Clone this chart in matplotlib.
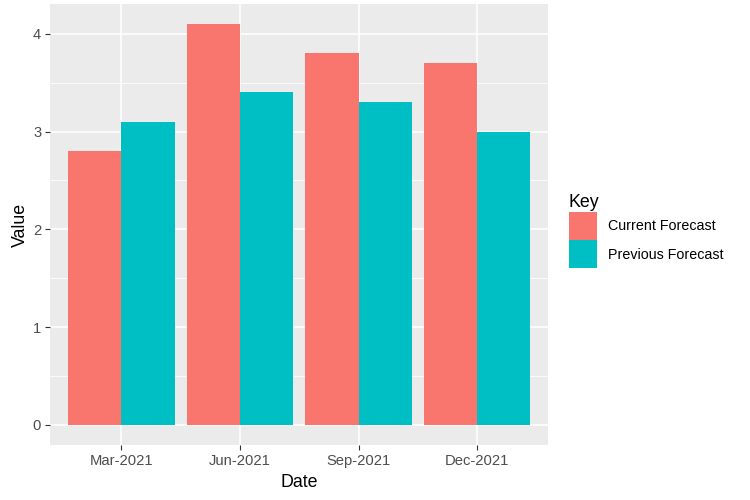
import matplotlib.pyplot as plt
import numpy as np
from matplotlib.patches import Patch

plt.rcParams['font.family'] = ['Liberation Sans', 'DejaVu Sans']

# data
dates = ["Mar-2021", "Jun-2021", "Sep-2021", "Dec-2021"]
current = [2.8, 4.1, 3.8, 3.7]
previous = [3.1, 3.4, 3.3, 3.0]
series_names = ["Current Forecast", "Previous Forecast"]
colors = ["#F8766D", "#00BFC4"]

fig = plt.figure(figsize=(7.5, 5), dpi=100)
ax = fig.add_axes([0.067, 0.11, 0.664, 0.882])

x = np.arange(1, len(dates) + 1)
w = 0.45
ax.bar(x - w / 2, current, width=w, color=colors[0], zorder=3)
ax.bar(x + w / 2, previous, width=w, color=colors[1], zorder=3)

# ggplot-ish look
ax.set_facecolor("#EBEBEB")
ax.set_xlim(0.4, 4.6)
ax.set_ylim(-0.205, 4.305)
ax.set_yticks([0, 1, 2, 3, 4])
ax.set_yticks(np.arange(0.5, 4.5, 1), minor=True)
ax.set_xticks(x)
ax.set_xticklabels(dates)
ax.grid(True, which="major", color="white", linewidth=1.1, zorder=0)
ax.grid(True, which="minor", axis="y", color="white", linewidth=0.55, zorder=0)
ax.tick_params(which="major", length=3.5, color="#333333", labelsize=10.6,
               labelcolor="#4D4D4D", pad=3)
ax.tick_params(which="minor", length=0)
for s in ax.spines.values():
    s.set_visible(False)
ax.set_xlabel("Date", fontsize=12.8, labelpad=4)
ax.set_ylabel("Value", fontsize=12.8, labelpad=2.5)

handles = [Patch(facecolor=c, edgecolor="none") for c in colors]
leg = fig.legend(handles, series_names, title="Key", loc="center left",
                 bbox_to_anchor=(0.751, 0.538), frameon=False, fontsize=10.3,
                 title_fontsize=12.8, handlelength=1.95, handleheight=2.63,
                 labelspacing=0.05, handletextpad=0.75, borderaxespad=0)
leg._legend_box.align = "left"

fig.savefig("out.png", dpi=100)
